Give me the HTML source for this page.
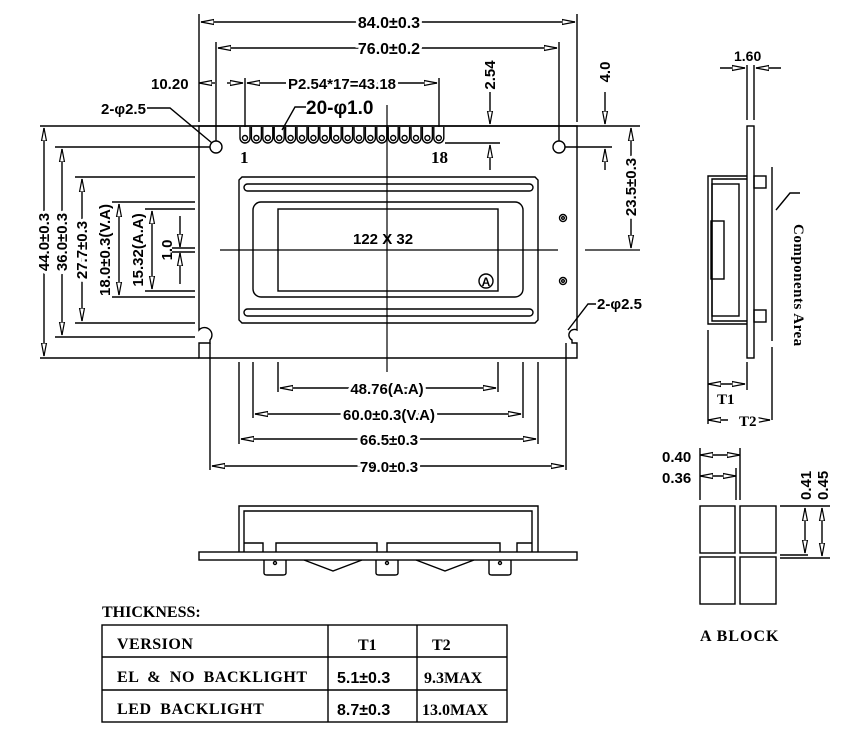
<!DOCTYPE html>
<html><head><meta charset="utf-8"><style>
html,body{margin:0;padding:0;background:#fff}
svg{display:block}
text{font-family:"Liberation Serif",serif;font-weight:bold;fill:#000}
.s{font-family:"Liberation Sans",sans-serif;font-weight:bold}
.w{stroke:#fff;stroke-width:6;paint-order:stroke}
</style></head><body>
<svg width="860" height="748" viewBox="0 0 860 748" xmlns="http://www.w3.org/2000/svg">
<defs>
<marker id="a" markerWidth="14" markerHeight="8" refX="13" refY="4" orient="auto-start-reverse" markerUnits="userSpaceOnUse">
<path d="M0,1.5 L13,4 L0,6.5 Z" fill="#fff" stroke="#000" stroke-width="1.2"/>
</marker>
<g id="p"><path d="M-5,127 V138 A5,5 0 0 0 5,138 V127"/><circle cx="0" cy="138" r="2.5"/></g>
</defs>
<g stroke="#000" stroke-width="1.4" fill="none">
<path d="M199,126 H577 V330 A5,5 0 0 0 572,340 V343 H577 V358 H199 V343 H210 V340 A5,5 0 0 0 199,330 Z"/>
<line x1="210" y1="343" x2="210" y2="358"/><line x1="566" y1="343" x2="566" y2="358"/>
<circle cx="216" cy="147" r="6"/><circle cx="559" cy="147" r="6"/>
<use href="#p" x="245"/><use href="#p" x="256.4"/><use href="#p" x="267.8"/><use href="#p" x="279.2"/><use href="#p" x="290.6"/><use href="#p" x="302"/><use href="#p" x="313.4"/><use href="#p" x="324.8"/><use href="#p" x="336.2"/><use href="#p" x="347.6"/><use href="#p" x="359"/><use href="#p" x="370.4"/><use href="#p" x="381.8"/><use href="#p" x="393.2"/><use href="#p" x="404.6"/><use href="#p" x="416"/><use href="#p" x="427.4"/><use href="#p" x="438.8"/>
<path d="M239,180 L242,177 H535 L538,180 V320 L535,323 H242 L239,320 Z"/>
<rect x="244" y="184" width="289" height="7" rx="3.5"/>
<rect x="244" y="309" width="289" height="7" rx="3.5"/>
<rect x="253" y="202" width="270" height="95" rx="8"/>
<rect x="278" y="209" width="220" height="82"/>
<circle cx="486" cy="281" r="7"/>
<circle cx="563" cy="218" r="3.5"/><circle cx="563" cy="218" r="1.3"/>
<circle cx="563" cy="281" r="3.5"/><circle cx="563" cy="281" r="1.3"/>
<line x1="387" y1="105" x2="387" y2="372" stroke-width="1.2"/>
<line x1="220" y1="250" x2="558" y2="250" stroke-width="1.2"/>
<line x1="585" y1="250" x2="640" y2="250" stroke-width="1.2"/>
<line x1="199" y1="14" x2="199" y2="122"/><line x1="577" y1="14" x2="577" y2="122"/>
<line x1="201" y1="22" x2="575" y2="22" marker-start="url(#a)" marker-end="url(#a)"/>
<line x1="216" y1="42" x2="216" y2="141"/><line x1="559" y1="42" x2="559" y2="141"/>
<line x1="218" y1="48" x2="557" y2="48" marker-start="url(#a)" marker-end="url(#a)"/>
<line x1="199" y1="83" x2="215" y2="83" marker-start="url(#a)"/>
<line x1="227" y1="83" x2="243" y2="83" marker-end="url(#a)"/>
<line x1="245" y1="78" x2="245" y2="127"/><line x1="439" y1="78" x2="439" y2="127"/>
<line x1="247" y1="83" x2="437" y2="83" marker-start="url(#a)" marker-end="url(#a)"/>
<polyline points="147,108 170,108 212,143"/>
<polyline points="306,107 295,107 282,130"/>
<polyline points="596,304 588,304 568,330"/>
<line x1="40" y1="126" x2="640" y2="126"/>
<line x1="445" y1="143" x2="500" y2="143"/>
<line x1="565" y1="147" x2="612" y2="147"/>
<line x1="490" y1="92" x2="490" y2="124" marker-end="url(#a)"/>
<line x1="490" y1="170" x2="490" y2="145" marker-end="url(#a)"/>
<line x1="605" y1="92" x2="605" y2="124" marker-end="url(#a)"/>
<line x1="605" y1="170" x2="605" y2="149" marker-end="url(#a)"/>
<line x1="631" y1="128" x2="631" y2="248" marker-start="url(#a)" marker-end="url(#a)"/>
<line x1="40" y1="358" x2="199" y2="358"/>
<line x1="55" y1="147" x2="210" y2="147"/>
<line x1="55" y1="337" x2="195" y2="337"/>
<line x1="75" y1="177" x2="195" y2="177"/><line x1="75" y1="323" x2="195" y2="323"/>
<line x1="112" y1="202" x2="195" y2="202"/><line x1="112" y1="297" x2="195" y2="297"/>
<line x1="145" y1="209" x2="195" y2="209"/><line x1="145" y1="291" x2="195" y2="291"/>
<line x1="172" y1="248" x2="195" y2="248"/><line x1="172" y1="252" x2="195" y2="252"/>
<line x1="44" y1="128" x2="44" y2="356" marker-start="url(#a)" marker-end="url(#a)"/>
<line x1="62" y1="149" x2="62" y2="335" marker-start="url(#a)" marker-end="url(#a)"/>
<line x1="82" y1="179" x2="82" y2="321" marker-start="url(#a)" marker-end="url(#a)"/>
<line x1="119" y1="204" x2="119" y2="295" marker-start="url(#a)" marker-end="url(#a)"/>
<line x1="152" y1="211" x2="152" y2="289" marker-start="url(#a)" marker-end="url(#a)"/>
<line x1="180" y1="216" x2="180" y2="247" marker-end="url(#a)"/>
<line x1="180" y1="284" x2="180" y2="253" marker-end="url(#a)"/>
<line x1="278" y1="362" x2="278" y2="392"/><line x1="498" y1="362" x2="498" y2="392"/>
<line x1="253" y1="362" x2="253" y2="418"/><line x1="523" y1="362" x2="523" y2="418"/>
<line x1="239" y1="362" x2="239" y2="444"/><line x1="538" y1="362" x2="538" y2="444"/>
<line x1="210" y1="358" x2="210" y2="470"/><line x1="566" y1="358" x2="566" y2="470"/>
<line x1="280" y1="388" x2="496" y2="388" marker-start="url(#a)" marker-end="url(#a)"/>
<line x1="255" y1="414" x2="521" y2="414" marker-start="url(#a)" marker-end="url(#a)"/>
<line x1="241" y1="439" x2="536" y2="439" marker-start="url(#a)" marker-end="url(#a)"/>
<line x1="212" y1="466" x2="564" y2="466" marker-start="url(#a)" marker-end="url(#a)"/>
<rect x="199" y="552" width="378" height="8"/>
<path d="M239,552 V506 H538 V552"/>
<path d="M244,552 V511 H532 V552 M244,543 H263 V552"/>
<path d="M276,552 V543 H377 V552 M387,552 V543 H500 V552 M517,552 V543 H532"/>
<path d="M264,560 V573 Q264,575 267,575 H283 Q286,575 286,573 V560"/>
<path d="M376,560 V573 Q376,575 379,575 H395 Q398,575 398,573 V560"/>
<path d="M489,560 V573 Q489,575 492,575 H508 Q511,575 511,573 V560"/>
<path d="M304,560 L333,571 L362,560 M416,560 L445,571 L474,560"/>
<circle cx="275" cy="563" r="1.5"/><circle cx="387" cy="563" r="1.5"/><circle cx="500" cy="563" r="1.5"/>
<rect x="747" y="126" width="7" height="232"/>
<line x1="747" y1="65" x2="747" y2="120"/><line x1="754" y1="65" x2="754" y2="120"/>
<line x1="720" y1="68" x2="745" y2="68" marker-end="url(#a)"/>
<line x1="781" y1="68" x2="756" y2="68" marker-end="url(#a)"/>
<path d="M747,176 H708 V324 H747"/>
<path d="M747,179 H712 V321 H747"/>
<rect x="712" y="184" width="27" height="132"/>
<rect x="711" y="221" width="13" height="58"/>
<rect x="754" y="176" width="12" height="12"/><rect x="754" y="310" width="12" height="12"/>
<line x1="772" y1="167" x2="772" y2="341"/><line x1="772" y1="347" x2="772" y2="420"/>
<polyline points="800,193 790,193 776,210"/>
<line x1="708" y1="330" x2="708" y2="424"/><line x1="747" y1="362" x2="747" y2="390"/>
<line x1="708" y1="384" x2="745" y2="384" marker-start="url(#a)" marker-end="url(#a)"/>
<line x1="708" y1="420" x2="728" y2="420" marker-start="url(#a)"/>
<line x1="750" y1="420" x2="770" y2="420" marker-end="url(#a)"/>
<rect x="700" y="506" width="35" height="47"/><rect x="740" y="506" width="36" height="47"/>
<rect x="700" y="557" width="35" height="47"/><rect x="740" y="557" width="36" height="47"/>
<line x1="700" y1="448" x2="700" y2="500"/><line x1="740" y1="448" x2="740" y2="500"/>
<line x1="736" y1="468" x2="736" y2="500"/>
<line x1="700" y1="455" x2="740" y2="455" marker-start="url(#a)" marker-end="url(#a)"/>
<line x1="700" y1="476" x2="736" y2="476" marker-start="url(#a)" marker-end="url(#a)"/>
<line x1="780" y1="506" x2="830" y2="506"/>
<line x1="780" y1="555" x2="808" y2="555"/><line x1="780" y1="558" x2="830" y2="558"/>
<line x1="805" y1="508" x2="805" y2="553" marker-start="url(#a)" marker-end="url(#a)"/>
<line x1="822" y1="508" x2="822" y2="556" marker-start="url(#a)" marker-end="url(#a)"/>
<rect x="102" y="625" width="405" height="97"/>
<line x1="102" y1="657" x2="507" y2="657"/><line x1="102" y1="690" x2="507" y2="690"/>
<line x1="328" y1="625" x2="328" y2="722"/><line x1="417" y1="625" x2="417" y2="722"/>
</g>
<g class="s" font-size="15">
<text x="389" y="28" text-anchor="middle" class="s w" font-size="16">84.0±0.3</text>
<text x="389" y="54" text-anchor="middle" class="s w" font-size="16">76.0±0.2</text>
<text x="151" y="89" class="s" font-size="15">10.20</text>
<text x="342" y="89" text-anchor="middle" class="s w" font-size="15">P2.54*17=43.18</text>
<text x="101" y="114" class="s" font-size="15">2-φ2.5</text>
<text x="306" y="114" class="s" font-size="19">20-φ1.0</text>
<text x="240" y="163" font-size="17">1</text>
<text x="431" y="163" font-size="17">18</text>
<text x="353" y="244" font-size="15" class="s">122 X 32</text>
<text x="486" y="286" font-size="12" text-anchor="middle" class="s">A</text>
<text x="597" y="309" font-size="15" class="s">2-φ2.5</text>
<text x="387" y="394" text-anchor="middle" class="s w" font-size="15">48.76(A.A)</text>
<text x="389" y="420" text-anchor="middle" class="s w" font-size="15">60.0±0.3(V.A)</text>
<text x="389" y="445" text-anchor="middle" class="s w" font-size="15">66.5±0.3</text>
<text x="389" y="472" text-anchor="middle" class="s w" font-size="15">79.0±0.3</text>
<text x="734" y="61" font-size="14" class="s">1.60</text>
<text x="717" y="404" font-size="15">T1</text>
<text x="739" y="426" font-size="15" class="w">T2</text>
<text x="662" y="462" font-size="15" class="s">0.40</text>
<text x="662" y="483" font-size="15" class="s">0.36</text>
<text x="700" y="641" font-size="16" style="letter-spacing:1px">A  BLOCK</text>
<text x="102" y="617" font-size="16">THICKNESS:</text>
<text x="117" y="649" font-size="16" style="letter-spacing:0.5px">VERSION</text>
<text x="358" y="650" font-size="16">T1</text>
<text x="432" y="650" font-size="16">T2</text>
<text x="117" y="682" font-size="16" style="letter-spacing:0.6px;word-spacing:4px">EL &amp; NO BACKLIGHT</text>
<text x="337" y="683" font-size="16" class="s">5.1±0.3</text>
<text x="424" y="683" font-size="16">9.3MAX</text>
<text x="117" y="714" font-size="16" style="letter-spacing:0.6px;word-spacing:4px">LED BACKLIGHT</text>
<text x="337" y="715" font-size="16" class="s">8.7±0.3</text>
<text x="422" y="715" font-size="16">13.0MAX</text>
<text transform="translate(49,242) rotate(-90)" text-anchor="middle" class="s w">44.0±0.3</text>
<text transform="translate(67,242) rotate(-90)" text-anchor="middle" class="s w">36.0±0.3</text>
<text transform="translate(87,250) rotate(-90)" text-anchor="middle" class="s w">27.7±0.3</text>
<text transform="translate(110,250) rotate(-90)" text-anchor="middle" class="s">18.0±0.3(V.A)</text>
<text transform="translate(143,250) rotate(-90)" text-anchor="middle" class="s">15.32(A.A)</text>
<text transform="translate(172,250) rotate(-90)" text-anchor="middle" class="s">1.0</text>
<text transform="translate(495,75) rotate(-90)" text-anchor="middle" class="s">2.54</text>
<text transform="translate(610,72) rotate(-90)" text-anchor="middle" class="s">4.0</text>
<text transform="translate(636,187) rotate(-90)" text-anchor="middle" class="s w">23.5±0.3</text>
<text transform="translate(811,500) rotate(-90)" font-size="15" class="s">0.41</text>
<text transform="translate(828,500) rotate(-90)" font-size="15" class="s">0.45</text>
<text transform="translate(794,224) rotate(90)" font-size="15" style="letter-spacing:0.5px">Components  Area</text>
</g>
</svg>
</body></html>
